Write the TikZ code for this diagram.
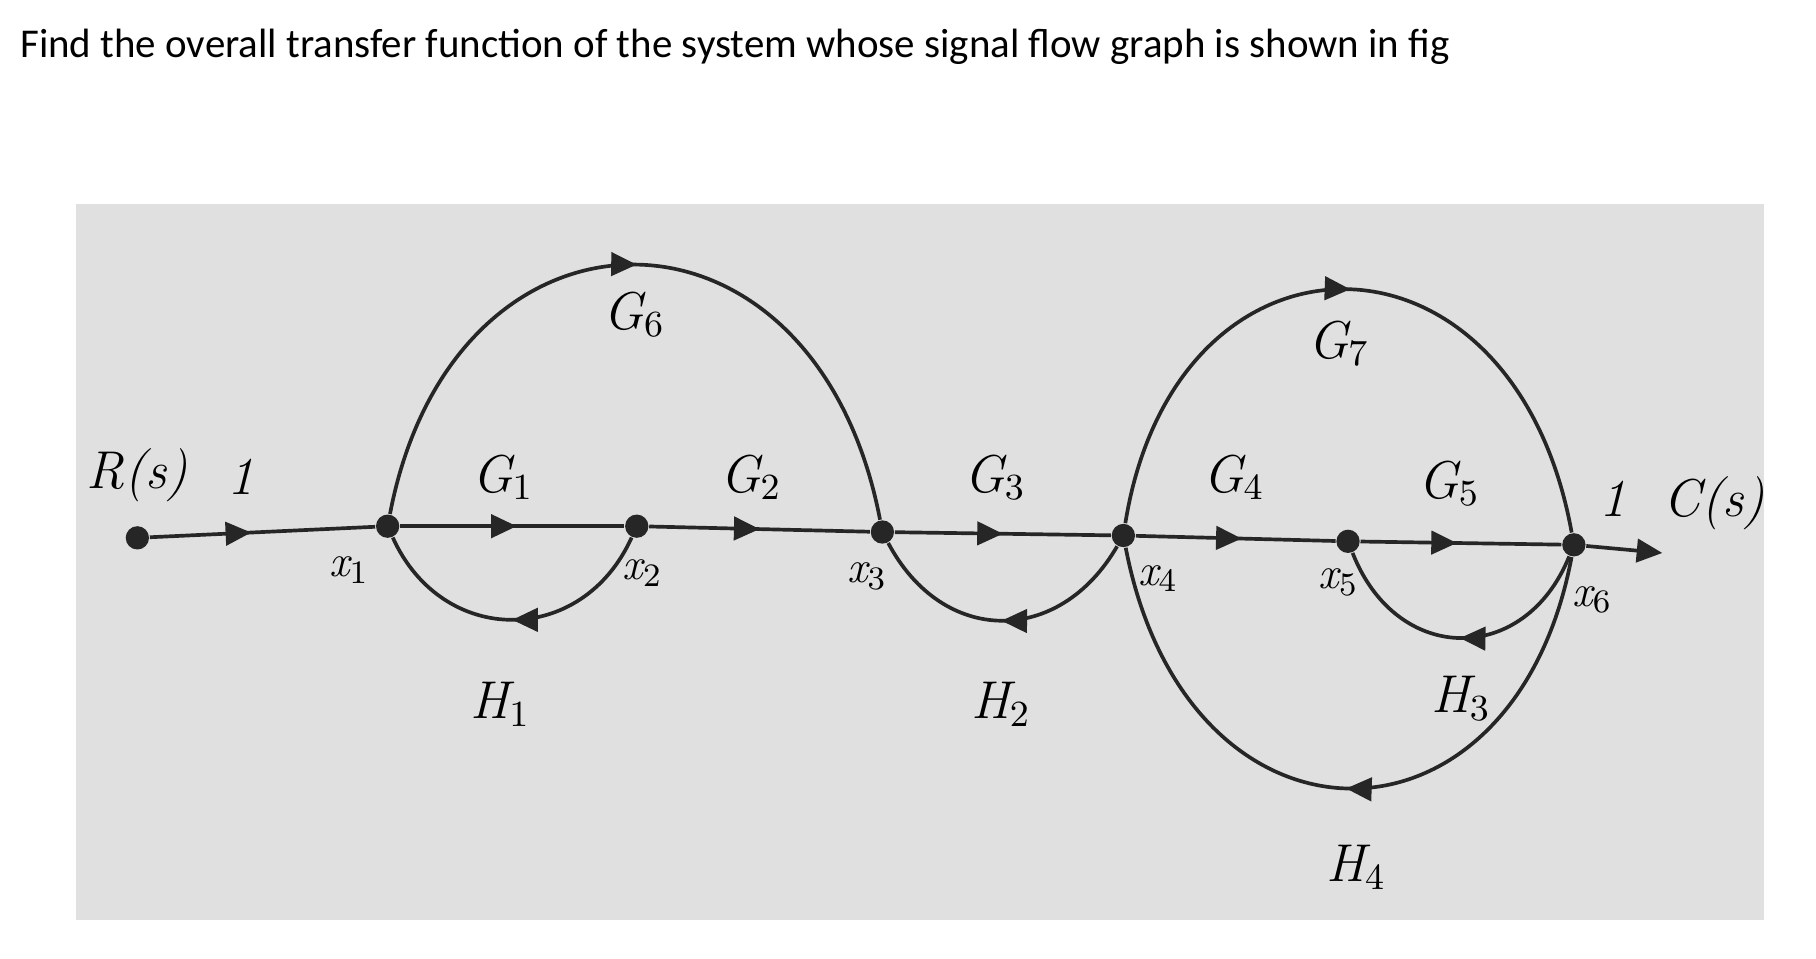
\documentclass[tikz,border=0pt]{standalone}
\usepackage{fontspec}
\setsansfont{Carlito}
\usetikzlibrary{arrows.meta,decorations.markings}
\begin{document}
\begin{tikzpicture}[x=0.01cm,y=-0.01cm,
  br/.style={line width=0.9pt,draw=black!85},
  mid/.style={postaction={decorate},decoration={markings,mark=at position #1 with {\arrow{Triangle[length=0.22cm,width=0.2cm]}}}},
  dot/.style={circle,fill=black!85,inner sep=0pt,minimum size=0.2cm},
  lab/.style={font=\fontsize{13}{15}\selectfont\itshape},
  sub/.style={font=\fontsize{11}{13}\selectfont\itshape}]
\useasboundingbox (0,0) rectangle (1560,823);
\fill[white] (0,0) rectangle (1560,823);
\node[anchor=west,font=\sffamily\fontsize{10}{12}\selectfont] (title) at (5,40) {Find the overall transfer function of the system whose signal flow graph is shown in fig};
\fill[black!12] (65,175) rectangle (1515,790);
\node[dot] (r) at (118,462) {};
\node[dot] (x1) at (333,452) {};
\node[dot] (x2) at (547,452) {};
\node[dot] (x3) at (758,457) {};
\node[dot] (x4) at (965,460) {};
\node[dot] (x5) at (1158,465) {};
\node[dot] (x6) at (1352,468) {};
\coordinate (c) at (1428,475);
\draw[br,mid=0.45] (r) -- (x1);
\draw[br,mid=0.52] (x1) -- (x2);
\draw[br,mid=0.5] (x2) -- (x3);
\draw[br,mid=0.5] (x3) -- (x4);
\draw[br,mid=0.53] (x4) -- (x5);
\draw[br,mid=0.48] (x5) -- (x6);
\draw[br,-{Triangle[length=0.22cm,width=0.2cm]}] (x6) -- (c);
\draw[br,mid=0.5] (x1) .. controls (390,155) and (700,155) .. (x3);
\draw[br,mid=0.5] (x4) .. controls (1010,180) and (1300,180) .. (x6);
\draw[br,mid=0.5] (x6) .. controls (1300,745) and (1020,745) .. (x4);
\draw[br,mid=0.5] (x2) .. controls (500,556) and (380,556) .. (x1);
\draw[br,mid=0.5] (x4) .. controls (910,555) and (810,555) .. (x3);
\draw[br,mid=0.5] (x6) .. controls (1310,572) and (1200,572) .. (x5);
\node[lab] (lr) at (118,408) {R(s)};
\node[lab] (l1) at (207,410) {1};
\node[lab] (lg1) at (432,410) {G$_1$};
\node[lab] (lg2) at (645,410) {G$_2$};
\node[lab] (lg3) at (855,410) {G$_3$};
\node[lab] (lg4) at (1060,410) {G$_4$};
\node[lab] (lg5) at (1245,415) {G$_5$};
\node[lab,anchor=west] (lc) at (1362,432) {1\ \ C(s)};
\node[lab] (lg6) at (545,270) {G$_6$};
\node[lab] (lg7) at (1150,295) {G$_7$};
\node[lab] (lh1) at (430,605) {H$_1$};
\node[lab] (lh2) at (860,605) {H$_2$};
\node[lab] (lh3) at (1255,600) {H$_3$};
\node[lab] (lh4) at (1165,745) {H$_4$};
\node[sub] (lx1) at (300,490) {x$_1$};
\node[sub] (lx2) at (552,492) {x$_2$};
\node[sub] (lx3) at (745,495) {x$_3$};
\node[sub] (lx4) at (995,497) {x$_4$};
\node[sub] (lx5) at (1150,500) {x$_5$};
\node[sub] (lx6) at (1368,515) {x$_6$};
\end{tikzpicture}
\end{document}
